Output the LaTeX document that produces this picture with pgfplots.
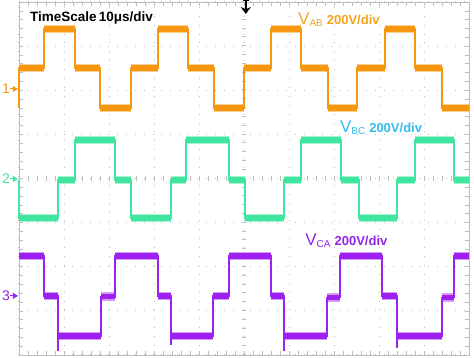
\documentclass[border=0pt]{standalone}
\usepackage{fontspec}
\setmainfont{Liberation Sans}
\usepackage{pgfplots}
\pgfplotsset{compat=1.18}
\usepackage{pgfplotstable}
\usetikzlibrary{arrows.meta}
\definecolor{chA}{HTML}{F7960F}
\definecolor{chB}{HTML}{40E6A0}
\definecolor{chC}{HTML}{A020F0}
\definecolor{labA}{HTML}{F5A31A}
\definecolor{labB}{HTML}{33BBEE}
\definecolor{labC}{HTML}{9025E8}
\definecolor{gridc}{HTML}{BDBDBD}

% time in us (10 us/div), vertical position in screen divisions
\pgfplotstableread{
x y
0 5.60
0 6.50
5.56 7.39
12.44 6.50
18.00 5.60
24.89 6.50
30.89 7.39
37.56 6.50
43.33 5.60
50.00 6.50
56.00 7.39
62.67 6.50
68.67 5.60
75.11 6.50
81.33 7.39
88.00 6.50
94.00 5.60
100.00 5.60
}\vab

\pgfplotstableread{
x y
0 3.97
0 3.10
8.67 3.97
12.44 4.87
21.33 3.97
24.89 3.10
33.78 3.97
37.11 4.87
46.67 3.97
50.22 3.10
58.89 3.97
62.67 4.87
71.56 3.97
75.56 3.10
84.00 3.97
88.00 4.87
96.67 3.97
100.00 3.97
}\vbc

\pgfplotstableread{
x y
0 2.24
5.56 1.34
8.67 0.43
18.22 1.32
21.33 2.24
30.89 1.34
33.78 0.43
43.11 1.34
46.67 2.24
56.00 1.34
58.89 0.43
68.44 1.30
71.33 2.24
80.67 1.34
84.00 0.43
94.00 1.30
96.67 2.24
100.00 2.24
}\vca

\pgfplotstableread{
x y
8.67 0.43
8.67 0.09
nan nan
33.78 0.43
33.78 0.23
nan nan
58.89 0.43
58.89 0.09
nan nan
84.00 0.43
84.00 0.16
}\vcaspk

\begin{document}
\begin{tikzpicture}
\begin{axis}[
  scale only axis, width=450pt, height=353pt,
  xmin=0, xmax=100, ymin=0, ymax=8,
  xtick={0,10,...,100}, ytick={0,1,...,8},
  minor x tick num=4, minor y tick num=4,
  xticklabels={}, yticklabels={},
  tick align=inside, major tick length=4pt, minor tick length=4pt,
  tick style={gridc, line width=0.6pt},
  grid=major,
  major grid style={gridc, line width=1pt, dash pattern=on 1pt off 7.9pt},
  axis line style={gridc, line width=0.8pt},
  clip=false,
]
% centre graticule lines with tick dashes
\draw[gridc, line width=4.5pt, dash pattern=on 0.8pt off 8.2pt] (axis cs:0,4) -- (axis cs:100,4);
\draw[gridc, line width=4.5pt, dash pattern=on 0.8pt off 8.025pt] (axis cs:50,0) -- (axis cs:50,8);

% V_AB
\addplot[chA!45, line width=8.5pt, jump mark left, forget plot] table {\vab};
\addplot[chA, line width=5.5pt, jump mark left, forget plot] table {\vab};
\addplot[chA, line width=1.6pt, const plot mark left] table {\vab};
% V_BC
\addplot[chB!45, line width=8.5pt, jump mark left, forget plot] table {\vbc};
\addplot[chB, line width=5.5pt, jump mark left, forget plot] table {\vbc};
\addplot[chB, line width=1.6pt, const plot mark left] table {\vbc};
% V_CA
\addplot[chC!45, line width=8.5pt, jump mark left, forget plot] table {\vca};
\addplot[chC, line width=5.5pt, jump mark left, forget plot] table {\vca};
\addplot[chC, line width=1.6pt, const plot mark left] table {\vca};
\addplot[chC, line width=1.6pt, unbounded coords=jump, forget plot] table {\vcaspk};

% texts
\node[anchor=base west, inner sep=0pt, font=\fontsize{13.5}{15}\selectfont\bfseries] at (axis cs:2.44,7.55) {TimeScale\,10μs/div};
\node[anchor=base west, inner sep=0pt, text=labA] at (axis cs:62.0,7.50) {{\fontsize{17}{17}\selectfont V}\raisebox{-2.5pt}{\fontsize{10}{10}\selectfont AB}\hspace{4pt}{\fontsize{13}{14}\selectfont\bfseries 200V/div}};
\node[anchor=base west, inner sep=0pt, text=labB] at (axis cs:71.3,5.05) {{\fontsize{17}{17}\selectfont V}\raisebox{-2.5pt}{\fontsize{10}{10}\selectfont BC}\hspace{4pt}{\fontsize{13}{14}\selectfont\bfseries 200V/div}};
\node[anchor=base west, inner sep=0pt, text=labC] at (axis cs:63.6,2.49) {{\fontsize{17}{17}\selectfont V}\raisebox{-2.5pt}{\fontsize{10}{10}\selectfont CA}\hspace{4pt}{\fontsize{13}{14}\selectfont\bfseries 200V/div}};

% channel markers
\node[anchor=east, inner sep=0pt, text=chA, font=\fontsize{14}{14}\selectfont] at ([xshift=-9pt]axis cs:0,6.03) {1};
\fill[chA] ([xshift=-1pt]axis cs:0,6.03) -- ++(-5pt,3pt) -- ++(0,-6pt) -- cycle;
\draw[chA, line width=1pt] ([xshift=-9pt]axis cs:0,6.03) -- ++(4pt,0);
\node[anchor=east, inner sep=0pt, text=chB, font=\fontsize{14}{14}\selectfont] at ([xshift=-9pt]axis cs:0,3.99) {2};
\fill[chB] ([xshift=-1pt]axis cs:0,3.99) -- ++(-5pt,3pt) -- ++(0,-6pt) -- cycle;
\draw[chB, line width=1pt] ([xshift=-9pt]axis cs:0,3.99) -- ++(4pt,0);
\node[anchor=east, inner sep=0pt, text=chC, font=\fontsize{14}{14}\selectfont] at ([xshift=-9pt]axis cs:0,1.34) {3};
\fill[chC] ([xshift=-1pt]axis cs:0,1.34) -- ++(-5pt,3pt) -- ++(0,-6pt) -- cycle;
\draw[chC, line width=1pt] ([xshift=-9pt]axis cs:0,1.34) -- ++(4pt,0);

% trigger marker
\draw[black, line width=1.6pt, -{Stealth[length=7pt,width=10pt]}] ([yshift=2pt]axis cs:50.4,8) -- ([yshift=-12pt]axis cs:50.4,8);
\draw[black, line width=1.2pt] ([xshift=-3pt,yshift=1.5pt]axis cs:50.4,8) -- ++(6pt,0);
\end{axis}
\pgfresetboundingbox
\path[use as bounding box] ([shift={(-19pt,-3pt)}]current axis.south west) rectangle ([shift={(5pt,2pt)}]current axis.north east);
\end{tikzpicture}
\end{document}
